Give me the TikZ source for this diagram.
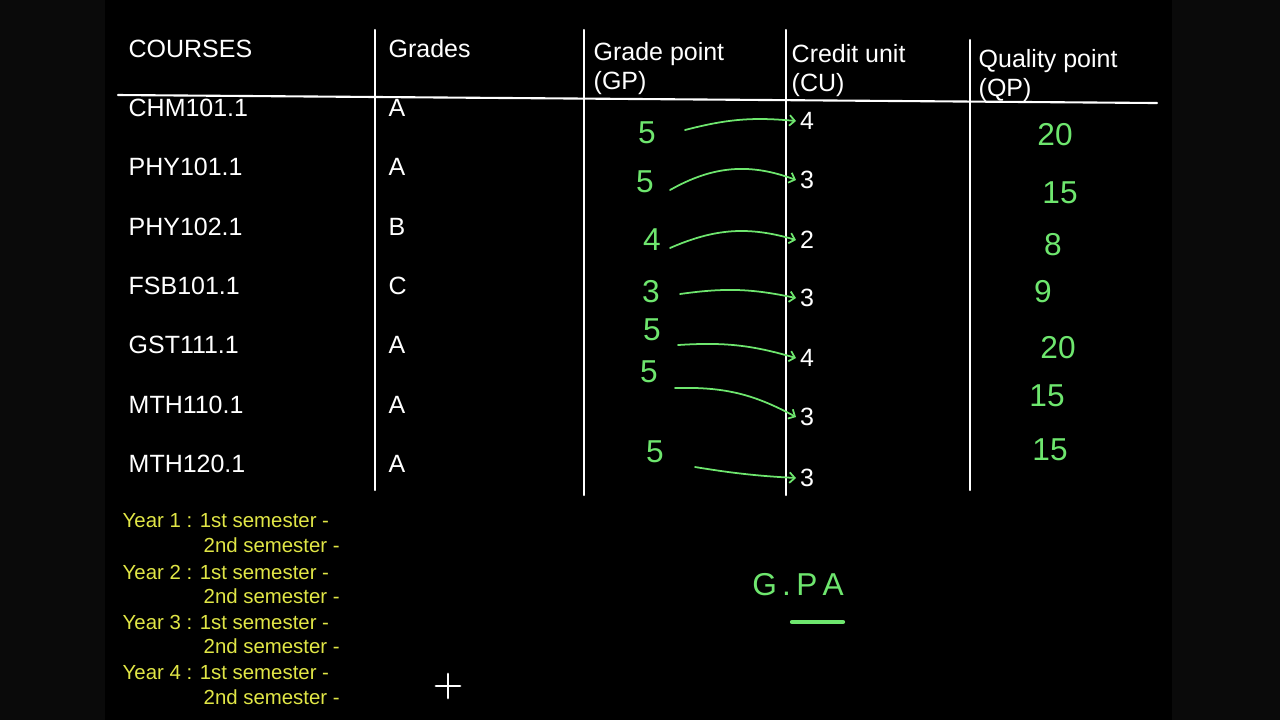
\documentclass[tikz,border=0pt]{standalone}
\usepackage{fontspec}
\usetikzlibrary{arrows.meta}
\setmainfont{Liberation Sans}
\definecolor{chalk}{RGB}{110,230,110}
\definecolor{note}{RGB}{225,230,70}
\tikzset{
  cell/.style={anchor=west, text=white, inner sep=0pt, font=\fontsize{7.1}{8.2}\selectfont},
  head/.style={anchor=north west, text=white, inner sep=0pt, align=left, font=\fontsize{7.1}{8.2}\selectfont},
  hand/.style={text=chalk, inner sep=0pt, font=\fontsize{9}{9}\selectfont},
  yr/.style={anchor=west, text=note, inner sep=0pt, font=\fontsize{5.8}{6.4}\selectfont},
  rule/.style={white, line width=0.6pt},
  link/.style={chalk, line width=0.5pt, -{Straight Barb[length=1.5pt]}}
}
\begin{document}
\begin{tikzpicture}[x=0.01cm, y=-0.01cm, line cap=round, line join=round]

% Background
\fill[black] (0,0) rectangle (1280,720);
\fill[black!96!white] (0,0) rectangle (105,720);
\fill[black!96!white] (1172,0) rectangle (1280,720);
\useasboundingbox (0,0) rectangle (1280,720);

% Table rules
\draw[rule] (375,30) -- (375,490);
\draw[rule] (584,30) -- (584,495);
\draw[rule] (786,30) -- (786,495);
\draw[rule] (970,40) -- (970,490);
\draw[rule] (118,95) -- (1157,103);

% Headers
\node[cell] (hc) at (128,49) {COURSES};
\node[cell] (hg) at (388,49) {Grades};
\node[head] (hgp) at (593,42) {Grade point\\(GP)};
\node[head] (hcu) at (791,44) {Credit unit\\(CU)};
\node[head] (hqp) at (978,49) {Quality point\\(QP)};

% Courses and grades
\foreach \c/\g/\y in {CHM101.1/A/108, PHY101.1/A/167, PHY102.1/B/227,
  FSB101.1/C/286, GST111.1/A/345, MTH110.1/A/405, MTH120.1/A/464}
  \node[cell] at (128,\y) {\c} node[cell] at (388,\y) {\g};

% Credit units
\foreach \n/\u/\y in {1/4/121, 2/3/180, 3/2/240, 4/3/298, 5/4/358, 6/3/417, 7/3/478}
  \node[cell, inner sep=1pt] (cu\n) at (796,\y) {\u};

% Grade points (handwritten)
\foreach \n/\p/\x/\y in {1/5/647/133, 2/5/645/182, 3/4/652/240, 4/3/651/292,
  5/5/652/330, 6/5/649/372, 7/5/655/452}
  \node[hand] (gp\n) at (\x,\y) {\p};

% Arrows GP -> CU
\draw[link] (685,130) to[bend left=10] (cu1.west);
\draw[link] (670,190) to[bend left=25] (cu2.west);
\draw[link] (670,248) to[bend left=20] (cu3.west);
\draw[link] (680,294) to[bend left=10] (cu4.west);
\draw[link] (678,345) to[bend left=10] (cu5.west);
\draw[link] (675,388) to[bend left=15] (cu6.west);
\draw[link] (695,467) to[bend right=3] (cu7.west);

% Quality points (handwritten)
\foreach \q/\x/\y in {20/1055/135, 15/1060/193, 8/1053/245, 9/1043/292,
  20/1058/348, 15/1047/396, 15/1050/450}
  \node[hand] at (\x,\y) {\q};

% Years
\foreach \k/\y in {1/521, 2/572, 3/622, 4/673}{
  \node[yr] at (122,\y) {Year \k\ : 1st semester -};
  \node[yr] at (203,\y+24) {2nd semester -};
}

% G.PA
\node[hand] (gpa) at (798,585) {G\,.\,P\,A};
\draw[chalk, line width=1.2pt] (792,622) -- (843,622);

% Cursor
\draw[white, line width=0.8pt] (436,686) -- (460,686) (448,674) -- (448,698);

\end{tikzpicture}
\end{document}
